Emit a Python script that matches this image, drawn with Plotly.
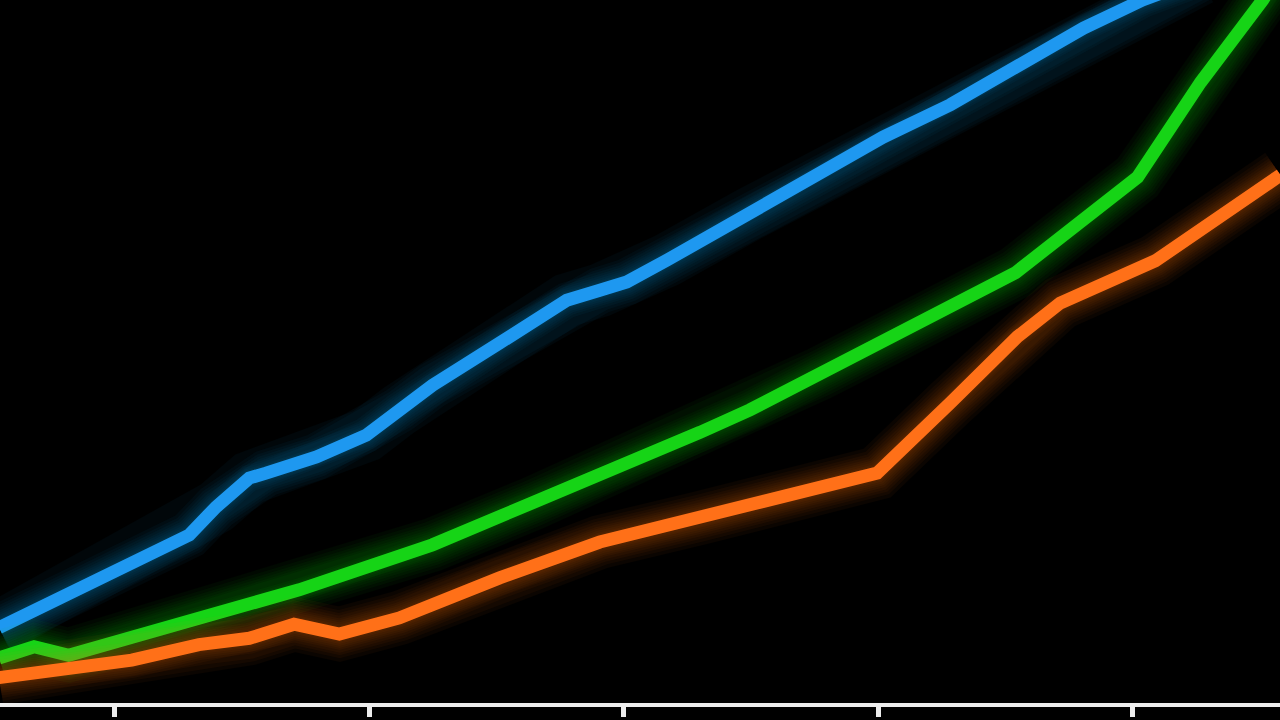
import plotly.graph_objects as go

# ---- data (x in years, y in index units) ----
blue_x = [1997.72, 1998.70, 1999.69, 2000.67, 2001.46, 2001.99, 2002.64, 2002.97,
          2003.96, 2004.94, 2005.59, 2006.24, 2007.56, 2008.88, 2009.53, 2010.06,
          2010.85, 2012.48, 2013.80, 2015.10, 2016.42, 2017.07, 2019.04,
          2020.20, 2021.34]
blue_y = [10.7, 14.2, 17.8, 21.3, 23.9, 27.9, 32.0, 32.7,
          35.0, 38.1, 41.7, 45.2, 51.2, 57.3, 58.7, 59.9,
          63.0, 69.6, 74.8, 80.5, 85.1, 87.9, 96.0,
          100.0, 103.1]

green_x = [1997.72, 1998.41, 1999.09, 2000.33, 2002.30, 2003.62, 2006.24, 2008.21,
           2010.12, 2011.50, 2012.48, 2013.86, 2015.10, 2016.42, 2017.70, 2020.10,
           2021.34, 2022.56, 2022.91]
green_y = [6.4, 8.0, 6.8, 9.4, 13.5, 16.1, 22.5, 28.4,
           34.1, 38.5, 41.7, 46.9, 51.5, 56.3, 61.2, 74.8,
           88.3, 100.0, 104.0]

orange_x = [1997.72, 1999.04, 2000.33, 2001.65, 2002.64, 2003.52, 2004.41, 2005.59,
            2007.56, 2009.53, 2011.50, 2013.46, 2014.98, 2016.42, 2017.74, 2018.58,
            2020.45, 2022.91]
orange_y = [3.6, 4.7, 6.1, 8.3, 9.2, 11.2, 9.8, 12.1,
            17.8, 22.9, 26.3, 29.9, 32.7, 42.7, 52.1, 56.9,
            62.9, 75.1]

tick_years = [2000, 2005, 2010, 2015, 2020]

series = [
    (blue_x, blue_y, "30,152,240"),
    (green_x, green_y, "22,212,22"),
    (orange_x, orange_y, "255,112,24"),
]

fig = go.Figure()
glow_widths = [54, 47, 41, 36, 31, 27, 23, 19, 16]
for xs, ys, rgb in series:
    for w in glow_widths:
        fig.add_trace(go.Scatter(x=xs, y=ys, mode="lines",
                                 line=dict(color=f"rgba({rgb},0.045)", width=w),
                                 hoverinfo="skip", showlegend=False))
    fig.add_trace(go.Scatter(x=xs, y=ys, mode="lines",
                             line=dict(color=f"rgb({rgb})", width=13),
                             showlegend=False))

fig.update_layout(
    width=1280, height=720,
    paper_bgcolor="black", plot_bgcolor="black",
    margin=dict(l=0, r=0, t=0, b=17),
    xaxis=dict(range=[1997.74, 2022.9], showgrid=False, zeroline=False,
               showline=True, linecolor="#ececec", linewidth=4,
               tickmode="array", tickvals=tick_years, ticks="outside",
               ticklen=10, tickwidth=5, tickcolor="#ececec",
               showticklabels=False),
    yaxis=dict(range=[0, 100], visible=False, showgrid=False, zeroline=False),
)

fig.write_html("out.html", config={"displayModeBar": False},
               post_script="document.body.style.margin='0';")
